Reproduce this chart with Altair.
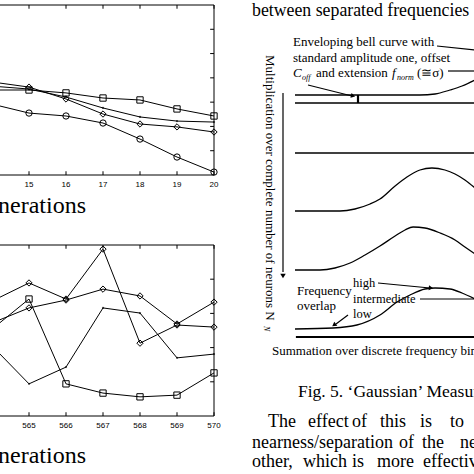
import altair as alt
import pandas as pd

SERIF = "Liberation Serif, Times New Roman, serif"
SANS = "Liberation Sans, Arial, sans-serif"
INK = "black"

# ---------------- upper panel: generations 14-20 ----------------
gen_top = [14, 15, 16, 17, 18, 19, 20]
top_square = [3.50, 3.50, 3.38, 3.17, 3.09, 2.72, 2.43]
top_plain = [3.66, 3.54, 3.21, 2.76, 2.39, 2.22, 2.18]
top_diamond = [3.83, 3.62, 3.13, 2.51, 2.10, 1.98, 1.77]
top_circle = [2.92, 2.55, 2.43, 2.14, 1.48, 0.74, 0.12]
top_ticks = [15, 16, 17, 18, 19, 20]
top_yticks = [1, 2, 3, 4, 5, 6]

# ---------------- lower panel: generations 564-570 ----------------
gen_bot = [564, 565, 566, 567, 568, 569, 570]
bot_square = [2.54, 3.42, 0.94, 0.67, 0.56, 0.61, 1.26]
bot_diamond_a = [3.36, 3.89, 3.42, 4.88, 2.13, 2.66, 2.60]
bot_diamond_b = [2.72, 3.16, 3.39, 3.71, 3.51, 2.69, 3.33]
bot_plain = [2.05, 0.94, 1.43, 3.16, 3.01, 1.70, 1.81]
bot_ticks = [565, 566, 567, 568, 569, 570]
bot_yticks = [1, 2, 3, 4]

# ---------------- schematic: bell curves over frequency bins ----------------
env_x = [0, 6.94, 7.78, 8.61, 9.28, 10.0]
env_y = [24.2, 24.2, 24.3, 24.7, 25.1, 25.7]
offset_x = [0, 10]
offset_y = [23.4, 23.4]
flat_x = [0, 10]
flat_y = [18.4, 18.4]
row2_x = [0, 2.5, 3.33, 4.17, 4.72, 5.56, 6.22, 6.94, 7.61, 8.33, 8.89, 9.44, 10.0]
row2_y = [12.6, 12.6, 12.8, 13.3, 13.8, 15.1, 16.0, 16.7, 16.9, 16.7, 16.3, 15.7, 14.9]
row1_x = [0, 1.39, 2.22, 3.06, 3.89, 4.72, 5.56, 6.11, 6.56, 7.22, 8.06, 8.89, 9.44, 10.0]
row1_y = [6.7, 6.7, 6.9, 7.4, 8.2, 9.1, 10.1, 10.7, 11.0, 10.9, 10.4, 9.7, 9.0, 8.3]
row0_x = [0, 2.11, 3.44, 4.72, 5.67, 6.39, 7.22, 7.78, 8.61, 9.28, 10.0]
row0_y = [0.8, 0.9, 1.2, 2.2, 3.5, 4.2, 4.8, 4.9, 4.8, 4.4, 3.8]

# ---------------- scales (placement of each panel on the page) ----------------
TOP_XD, TOP_YD = [14.216, 20], [0, 7]
BOT_XD, BOT_YD = [564.216, 570], [0, 5]


def sx(domain, rng):
    return alt.Scale(domain=domain, range=rng, nice=False, zero=False)


TOP_X = sx(TOP_XD, [0, 214])
TOP_Y = sx(TOP_YD, [175, 5])
BOT_X = sx(BOT_XD, [0, 214])
BOT_Y = sx(BOT_YD, [416, 245])
DX = sx([0, 10], [295, 475])
DY = sx([0, 30], [337, 37])

SHAPES = alt.Scale(domain=["square", "diamond", "circle"],
                   range=["square", "diamond", "circle"])


def series_frame(gens, named):
    rows = []
    for name, vals in named.items():
        for g, v in zip(gens, vals):
            rows.append({"g": g, "v": v, "s": name})
    return pd.DataFrame(rows)


def text_at(s, x, y, size, align="left", italic=False, angle=0,
            baseline="alphabetic", font=SERIF):
    return alt.Chart(pd.DataFrame({"t": [s]})).mark_text(
        align=align, baseline=baseline, fontSize=size, font=font,
        fontStyle="italic" if italic else "normal", angle=angle,
        color=INK).encode(x=alt.value(x), y=alt.value(y), text="t:N")


def panel(gens, named, ticks, yticks, xs, ys, xd, yd, title_y):
    df = series_frame(gens, named)
    X = alt.X("g:Q", scale=xs, axis=None)
    Y = alt.Y("v:Q", scale=ys, axis=None)
    lines = alt.Chart(df).mark_line(color=INK, strokeWidth=1).encode(
        x=X, y=Y, detail="s:N")
    marked = df[df["s"].isin(["square", "diamond", "diamond2", "circle"])].copy()
    marked["m"] = marked["s"].str.replace("2", "", regex=False)
    pts = alt.Chart(marked).mark_point(
        filled=False, color=INK, size=40, strokeWidth=1, opacity=1).encode(
        x=X, y=Y, shape=alt.Shape("m:N", scale=SHAPES, legend=None))
    dots = alt.Chart(df[df["s"] == "plain"]).mark_point(
        filled=True, color=INK, size=5, shape="circle").encode(x=X, y=Y)

    frame = pd.DataFrame([
        {"x": xd[0], "y": yd[1], "x2": xd[1], "y2": yd[1]},
        {"x": xd[1], "y": yd[0], "x2": xd[1], "y2": yd[1]},
        {"x": xd[0], "y": yd[0], "x2": xd[1], "y2": yd[0]},
    ])
    tick_len_y = (yd[1] - yd[0]) * 0.022
    tick_len_x = (xd[1] - xd[0]) * 0.018
    for t in ticks:
        frame.loc[len(frame)] = {"x": t, "y": yd[0], "x2": t, "y2": yd[0] + tick_len_y}
        frame.loc[len(frame)] = {"x": t, "y": yd[1], "x2": t, "y2": yd[1] - tick_len_y}
    for t in yticks:
        frame.loc[len(frame)] = {"x": xd[1], "y": t, "x2": xd[1] - tick_len_x, "y2": t}
    box = alt.Chart(frame).mark_rule(color=INK, strokeWidth=1).encode(
        x=alt.X("x:Q", scale=xs, axis=None), y=alt.Y("y:Q", scale=ys, axis=None),
        x2="x2:Q", y2="y2:Q")

    lab = pd.DataFrame({"g": ticks, "y": [yd[0]] * len(ticks),
                        "t": [str(t) for t in ticks]})
    labels = alt.Chart(lab).mark_text(
        dy=10, fontSize=8, font=SANS, color=INK, baseline="middle").encode(
        x=alt.X("g:Q", scale=xs, axis=None), y=alt.Y("y:Q", scale=ys, axis=None),
        text="t:N")
    title = text_at("Generations", 86, title_y, 24, align="right")
    return [box, lines, pts, dots, labels, title]


def words_at(pairs, y, size):
    return [text_at(w, x, y, size) for w, x in pairs]


def curve(xs_, ys_, width=1.3, interp="monotone"):
    df = pd.DataFrame({"x": xs_, "y": ys_})
    return alt.Chart(df).mark_line(
        color=INK, strokeWidth=width, interpolate=interp).encode(
        x=alt.X("x:Q", scale=DX, axis=None), y=alt.Y("y:Q", scale=DY, axis=None))


def seg(x1, y1, x2, y2, w=1.2):
    return alt.Chart(pd.DataFrame({"k": [0]})).mark_rule(
        color=INK, strokeWidth=w).encode(
        x=alt.value(x1), y=alt.value(y1), x2=alt.value(x2), y2=alt.value(y2))


def head(x, y, angle, size=28):
    return alt.Chart(pd.DataFrame({"k": [0]})).mark_point(
        shape="triangle-up", filled=True, color=INK, size=size, angle=angle,
        opacity=1).encode(x=alt.value(x), y=alt.value(y))


layers = []
layers += panel(gen_top, {"square": top_square, "plain": top_plain,
                          "diamond": top_diamond, "circle": top_circle},
                top_ticks, top_yticks, TOP_X, TOP_Y, TOP_XD, TOP_YD, 213)
layers += panel(gen_bot, {"square": bot_square, "diamond": bot_diamond_a,
                          "diamond2": bot_diamond_b, "plain": bot_plain},
                bot_ticks, bot_yticks, BOT_X, BOT_Y, BOT_XD, BOT_YD, 463)

# schematic curves
layers += [
    curve(env_x, env_y), curve(offset_x, offset_y), curve(flat_x, flat_y),
    curve(row2_x, row2_y), curve(row1_x, row1_y), curve(row0_x, row0_y),
    curve([0.05, 10], [0, 0], width=2.2),
]

# schematic annotations
layers += [
    text_at("between separated frequencies", 252, 16, 17.8),
    text_at("Enveloping bell curve with", 293, 46, 13),
    text_at("standard amplitude one, offset", 293, 62, 13),
    text_at("C", 293, 77, 13, italic=True),
    text_at("off", 302, 80, 8, italic=True),
    text_at("and extension", 316, 77, 13),
    text_at("f", 392, 77, 13, italic=True),
    text_at("norm", 397, 80, 8, italic=True),
    text_at("(\u2245\u03c3)", 417, 77, 13),
    seg(437, 46, 476, 50), seg(448, 71, 476, 71),
    seg(308, 85, 352, 96), head(353, 96, 104, 24),
    seg(358, 95, 358, 103, 2.2),
    text_at("Multiplication over complete number of neurons N", 270, 55, 13,
            angle=90, baseline="middle"),
    text_at("N", 266, 326, 8, italic=True, angle=90, baseline="middle"),
    seg(283, 93, 283, 272, 1.2), head(283, 276, 180, 30),
    text_at("Frequency", 297, 295, 13), text_at("overlap", 297, 310, 13),
    text_at("high", 353, 287, 12.5), text_at("intermediate", 353, 303, 12.5),
    text_at("low", 353, 318, 12.5),
    seg(378, 283, 430, 288), head(431, 288, 95, 26),
    seg(420, 299, 476, 299),
    seg(348, 315, 336, 324), head(334, 325, 234, 26),
    text_at("Summation over discrete frequency bins", 272, 355, 13),
    text_at("Fig. 5. \u2018Gaussian\u2019 Measure", 298, 397, 17.5),
]
layers += words_at([("The", 268), ("effect", 308), ("of", 352), ("this", 380),
                    ("is", 420), ("to", 450)], 427, 18)
layers += words_at([("nearness/separation", 252), ("of", 399), ("the", 422),
                    ("network", 460)], 448, 18)
layers += words_at([("other,", 252), ("which", 303), ("is", 352), ("more", 377),
                    ("effective", 423)], 467, 18)

chart = alt.layer(*layers).resolve_scale(
    x="independent", y="independent", shape="independent"
).properties(
    width=474, height=474, autosize=alt.AutoSizeParams(type="none"),
    padding=0, background="white"
).configure_view(stroke=None)

chart.save("out.html", embed_options={"renderer": "svg", "actions": False})
